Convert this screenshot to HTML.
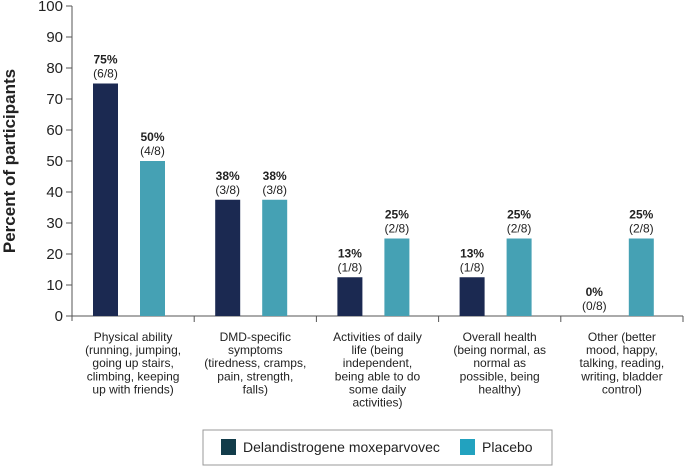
<!DOCTYPE html>
<html><head><meta charset="utf-8"><style>
body{margin:0;background:#fff;font-family:"Liberation Sans",sans-serif;}
svg text{font-family:"Liberation Sans",sans-serif;fill:#222;}
</style></head><body>
<svg id="c" width="685" height="467"></svg>
<script>
const categories=[["Physical ability","(running, jumping,","going up stairs,","climbing, keeping","up with friends)"],["DMD-specific","symptoms","(tiredness, cramps,","pain, strength,","falls)"],["Activities of daily","life (being","independent,","being able to do","some daily","activities)"],["Overall health","(being normal, as","normal as","possible, being","healthy)"],["Other (better","mood, happy,","talking, reading,","writing, bladder","control)"]];
const drugValues=[75,37.5,12.5,12.5,0];
const drugLabels=["75%","38%","13%","13%","0%"];
const drugCounts=["(6/8)","(3/8)","(1/8)","(1/8)","(0/8)"];
const placeboValues=[50,37.5,25,25,25];
const placeboLabels=["50%","38%","25%","25%","25%"];
const placeboCounts=["(4/8)","(3/8)","(2/8)","(2/8)","(2/8)"];
const yTicks=[0,10,20,30,40,50,60,70,80,90,100];
const NS="http://www.w3.org/2000/svg";
const svg=document.getElementById('c');
function el(t,a,p){const e=document.createElementNS(NS,t);for(const k in a)e.setAttribute(k,a[k]);(p||svg).appendChild(e);return e;}
const y0=316,y1=6,x0=72,gw=122.2;
const Y=v=>y0-(v/100)*(y0-y1);
const X=i=>x0+i*gw;
let e=el('line',{x1:x0,y1:y1,x2:x0,y2:y0+5,stroke:'#555','stroke-width':1});

e=el('line',{x1:x0,y1:y0,x2:X(5),y2:y0,stroke:'#555','stroke-width':1});

yTicks.forEach(t=>{
 el('line',{x1:x0-6,y1:Y(t),x2:x0,y2:Y(t),stroke:'#555'});
 const tx=el('text',{x:x0-9,y:Y(t)+5,'text-anchor':'end','font-size':15});tx.textContent=t;
 
});
for(let i=1;i<=5;i++)el('line',{x1:X(i),y1:y0,x2:X(i),y2:y0+6,stroke:'#555'});
const yt=el('text',{x:0,y:0,transform:'translate(15,161) rotate(-90)','text-anchor':'middle','font-size':17,'font-weight':'bold'});
yt.textContent='Percent of participants';

function bar(x,v,col,lab,cnt,name){
 const r=el('rect',{x:x,y:Y(v),width:25,height:y0-Y(v),fill:col});
 
 const a=el('text',{x:x+12.5,y:Y(v)-20,'text-anchor':'middle','font-size':12,'font-weight':'bold'});a.textContent=lab;
 
 const b=el('text',{x:x+12.5,y:Y(v)-6,'text-anchor':'middle','font-size':12});b.textContent=cnt;
 
}
categories.forEach((c,i)=>{
 bar(X(i)+21,drugValues[i],'#1b2951',drugLabels[i],drugCounts[i],'bar-drug');
 bar(X(i)+68,placeboValues[i],'#45a1b4',placeboLabels[i],placeboCounts[i],'bar-placebo');
 c.forEach((ln,j)=>{const t=el('text',{x:X(i)+gw/2,y:341+j*13.1,'text-anchor':'middle','font-size':12});t.textContent=ln;
 });
});
const lg=el('rect',{x:203,y:430,width:349,height:35,fill:'#fff',stroke:'#999'});

el('rect',{x:221,y:439,width:15,height:16,fill:'#123c4a'});
let t=el('text',{x:243,y:452,'font-size':14});t.textContent='Delandistrogene moxeparvovec';

el('rect',{x:460,y:439,width:15,height:16,fill:'#22a2bf'});
t=el('text',{x:482,y:452,'font-size':14});t.textContent='Placebo';

</script>
</body></html>
